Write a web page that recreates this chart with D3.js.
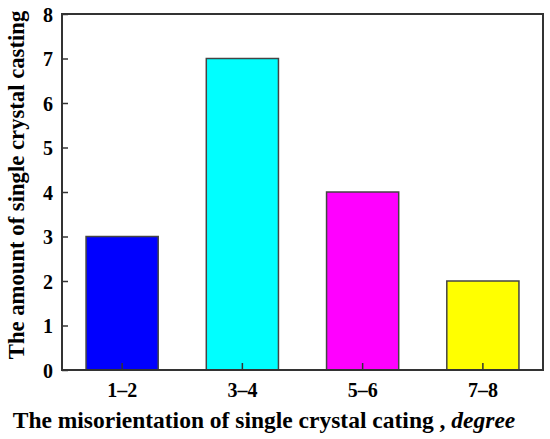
<!DOCTYPE html>
<html>
<head>
<meta charset="utf-8">
<script src="https://cdn.jsdelivr.net/npm/d3@7"></script>
<style>
  body { margin: 0; background: #fff; }
  text { font-family: "Liberation Serif", "Times New Roman", serif; font-weight: bold; fill: #000; }
</style>
</head>
<body>
<div id="chart"></div>
<script>
var categories = ["1\u20132", "3\u20134", "5\u20136", "7\u20138"];
var counts = [3, 7, 4, 2];
var barColors = ["#0000ff", "#00ffff", "#ff00ff", "#ffff00"];
var yTicks = [0, 1, 2, 3, 4, 5, 6, 7, 8];

var width = 550,
  height = 439;

var margin = { top: 14, right: 7, bottom: 69, left: 62 };

var svg = d3.select("#chart")
  .append("svg")
  .attr("width", width)
  .attr("height", height);

var x = d3.scaleBand()
  .domain(categories)
  .range([margin.left, width - margin.right])
  .paddingInner(0.4)
  .paddingOuter(0.2);

var y = d3.scaleLinear()
  .domain([0, 8])
  .range([height - margin.bottom, margin.top]);

// bars
svg.selectAll("rect.bar")
  .data(counts)
  .enter().append("rect")
  .attr("class", "bar")
  .attr("x", function (d, i) { return x(categories[i]); })
  .attr("y", function (d) { return y(d); })
  .attr("width", x.bandwidth())
  .attr("height", function (d) { return y(0) - y(d); })
  .style("fill", function (d, i) { return barColors[i]; })
  .style("stroke", "#444")
  .style("stroke-width", 1.5);

// frame
svg.append("rect")
  .attr("x", margin.left)
  .attr("y", margin.top)
  .attr("width", width - margin.right - margin.left)
  .attr("height", y(0) - margin.top)
  .style("fill", "none")
  .style("stroke", "#333")
  .style("stroke-width", 2);

// y axis, ticks inward
var yAxis = svg.append("g")
  .attr("transform", "translate(" + margin.left + ",0)")
  .call(d3.axisLeft(y).tickValues(yTicks).tickFormat(d3.format("d")).tickSizeInner(-6).tickSizeOuter(0).tickPadding(9));
yAxis.select(".domain").remove();
yAxis.selectAll("line").style("stroke", "#333").style("stroke-width", 1.5);
yAxis.selectAll("text").style("font-size", "20px").attr("dy", "0.35em");

// x axis, ticks inward at bar centres
var xAxis = svg.append("g")
  .attr("transform", "translate(0," + y(0) + ")")
  .call(d3.axisBottom(x).tickSizeInner(-7).tickSizeOuter(0).tickPadding(13));
xAxis.select(".domain").remove();
xAxis.selectAll("line").style("stroke", "#333").style("stroke-width", 1.5);
xAxis.selectAll("text").style("font-size", "20px");

// axis titles
var xTitle = svg.append("text")
  .attr("x", 264)
  .attr("y", 428)
  .attr("text-anchor", "middle")
  .style("font-size", "23.5px");
xTitle.append("tspan").text("The misorientation of single crystal cating , ");
xTitle.append("tspan").style("font-style", "italic").text("degree");

svg.append("text")
  .attr("transform", "translate(24,185) rotate(-90)")
  .attr("text-anchor", "middle")
  .style("font-size", "22.7px")
  .text("The amount of single crystal casting");
</script>
</body>
</html>
